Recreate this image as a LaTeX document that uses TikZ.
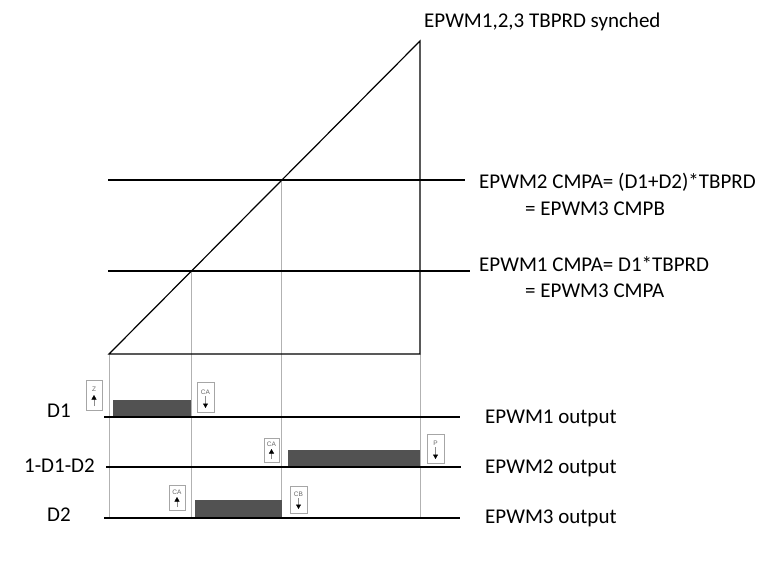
\documentclass[tikz,border=0pt]{standalone}
\usepackage{fontspec}
\setmainfont{Carlito}
\newfontfamily\smallsans{Liberation Sans}
\usetikzlibrary{arrows.meta,calc}
\begin{document}
\begin{tikzpicture}[x=1pt,y=-1pt,
  axis/.style={line width=1.2pt, black},
  guide/.style={line width=1pt, black!30},
  bar/.style={fill=black!68, draw=none},
  evbox/.style={draw=black!35, line width=0.6pt, fill=white},
  evlab/.style={font=\smallsans\fontsize{6.5}{7}\selectfont, text=black!60, inner sep=0pt},
  evarr/.style={draw=black!45, line width=0.5pt, -{Triangle[color=black,width=5pt,length=4.5pt]}},
  lbl/.style={font=\fontsize{21}{23}\selectfont, inner sep=0pt, anchor=base west},
  lblr/.style={font=\fontsize{21}{23}\selectfont, inner sep=0pt, anchor=base east},
]
\useasboundingbox (0,0) rectangle (766,563);

% key points
\coordinate (O) at (109,354);
\coordinate (A) at (420,41);
\coordinate (B) at (420,354);
\coordinate (L2s) at (108,180);
\coordinate (L2e) at (465,180);
\coordinate (L1s) at (108,271);
\coordinate (L1e) at (470,271);
\coordinate (X1) at (intersection of O--A and L1s--L1e);
\coordinate (X2) at (intersection of O--A and L2s--L2e);
\coordinate (O') at (109,519);
\coordinate (B') at (420,519);

% guides
\draw[guide] (O) -- (O');
\draw[guide] (X1) -- (X1 |- O');
\draw[guide] (X2) -- (X2 |- O');
\draw[guide] (B) -- (B');

% sawtooth and levels
\draw[axis] (O) -- (A) -- (B) -- cycle;
\draw[axis] (L2s) -- (L2e);
\draw[axis] (L1s) -- (L1e);

% timing lines
\coordinate (T1s) at (104,417); \coordinate (T1e) at (460,417);
\coordinate (T2s) at (106,467); \coordinate (T2e) at (461,467);
\coordinate (T3s) at (104,518); \coordinate (T3e) at (460,518);

% bars
\fill[bar] (113,400) rectangle (X1 |- T1s);
\fill[bar] (288,450) rectangle (B |- T2s);
\fill[bar] (195,500) rectangle (X2 |- T3s);

\draw[axis] (T1s) -- (T1e);
\draw[axis] (T2s) -- (T2e);
\draw[axis] (T3s) -- (T3e);

% event boxes
\draw[evbox] (86,380) rectangle (102,410);
\node[evlab] (ez) at (94,389) {Z};
\coordinate (ez1) at (94,406); \coordinate (ez2) at (94,395);
\draw[evarr] (ez1) -- (ez2);

\draw[evbox] (197,382) rectangle (214,412);
\node[evlab] (eca1) at (205.5,392) {CA};
\coordinate (ea1) at (205.5,396); \coordinate (ea2) at (205.5,408);
\draw[evarr] (ea1) -- (ea2);

\draw[evbox] (264,438) rectangle (279,462);
\node[evlab] (eca2) at (271.5,444) {CA};
\coordinate (eb1) at (271.5,459); \coordinate (eb2) at (271.5,449);
\draw[evarr] (eb1) -- (eb2);

\draw[evbox] (427,434) rectangle (444,463);
\node[evlab] (ep) at (435.5,443) {P};
\coordinate (ec1) at (435.5,447); \coordinate (ec2) at (435.5,459);
\draw[evarr] (ec1) -- (ec2);

\draw[evbox] (169,485) rectangle (185,510);
\node[evlab] (eca3) at (177,492) {CA};
\coordinate (ed1) at (177,507); \coordinate (ed2) at (177,497);
\draw[evarr] (ed1) -- (ed2);

\draw[evbox] (290,486) rectangle (307,513);
\node[evlab] (ecb) at (298.5,494) {CB};
\coordinate (ee1) at (298.5,498); \coordinate (ee2) at (298.5,509);
\draw[evarr] (ee1) -- (ee2);

% labels
\node[lbl] (t0) at (424,27) {EPWM1,2,3 TBPRD synched};
\node[lbl] (t1) at (479,188) {EPWM2 CMPA= (D1+D2)*TBPRD};
\node[lbl] (t2) at (525,215) {= EPWM3 CMPB};
\node[lbl] (t3) at (479,271) {EPWM1 CMPA= D1*TBPRD};
\node[lbl] (t4) at (525,297) {= EPWM3 CMPA};

\node[lblr] (d1) at (71,417) {D1};
\node[lblr] (d12) at (95,472) {1-D1-D2};
\node[lblr] (d2) at (71,521) {D2};

\node[lbl] (o1) at (485,423) {EPWM1 output};
\node[lbl] (o2) at (485,473) {EPWM2 output};
\node[lbl] (o3) at (485,523) {EPWM3 output};
\end{tikzpicture}
\end{document}
